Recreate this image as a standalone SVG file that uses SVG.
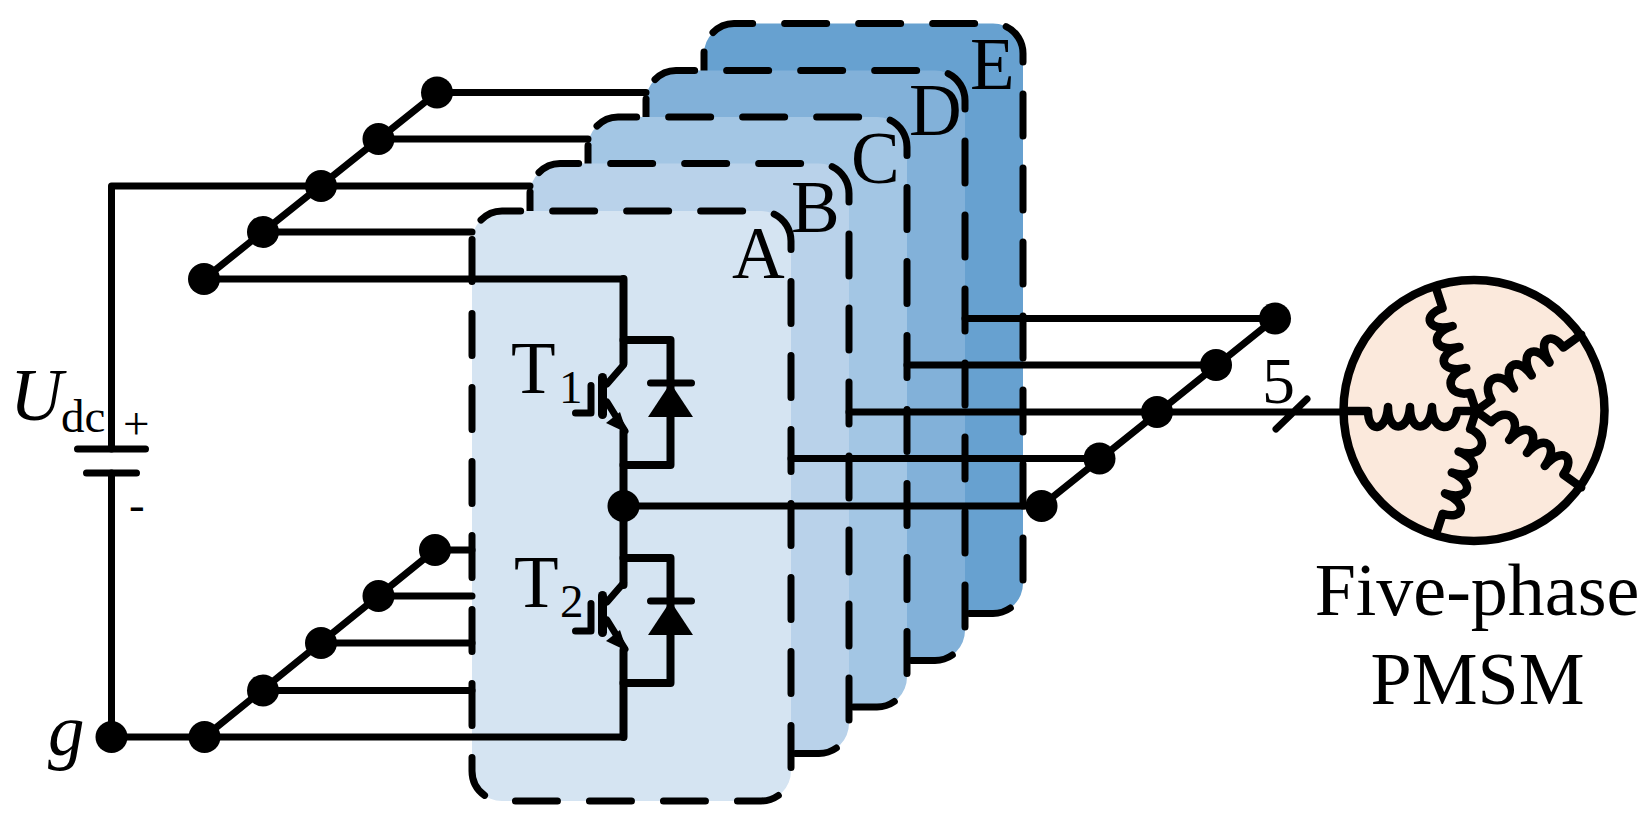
<svg xmlns="http://www.w3.org/2000/svg" width="1648" height="827" viewBox="0 0 1648 827">
<style>
.w{fill:none;stroke:#000;stroke-width:7;stroke-linecap:round;stroke-linejoin:round}
.h{stroke-width:8}
.c{stroke-width:8.500}
.p{stroke:#000;stroke-width:7;stroke-linecap:round;stroke-dasharray:42 32}
.d{fill:#000}
text{font-family:"Liberation Serif","Times New Roman",serif;fill:#000}
.l{font-size:73px}
.m{font-size:74px}
.s{font-size:47px}
.i{font-style:italic}
</style>
<defs>
<path id="pn" d="M481,220A30,30 0 0 1 502,211H761A30,30 0 0 1 791,241V771A30,30 0 0 1 761,801H502A30,30 0 0 1 472,771V241A30,30 0 0 1 481,220Z"/>
<g id="igbt">
<path class="w h" d="M623.500,340H670.500V465H623.500"/>
<path class="w" d="M650.500,383H691.500"/>
<path class="d" d="M670.500,383L693,417H648Z"/>
<path class="w" style="stroke-width:9" d="M602.500,377.500V414.500"/>
<path class="w" d="M591,385.500V413H575.500"/>
<path class="w" d="M623.500,365L607,384M607,402L625,431"/>
<path class="d" d="M627,433L620,412L606,423Z"/>
</g>
<path id="coil" class="w c" d="M-130,0H-108C-108,22 -90,22 -88,-4C-88,22 -68,22 -66,-4C-66,22 -46,22 -44,-4C-44,22 -21,22 -19,0H0"/>
</defs>
<rect width="1648" height="827" fill="#fff"/>
<g id="panel-E"><use href="#pn" x="232" y="-187.500" class="p" fill="#67a1d0"/></g>
<g id="panel-D"><use href="#pn" x="174" y="-140.500" class="p" fill="#82b1d9"/></g>
<g id="panel-C"><use href="#pn" x="116" y="-94" class="p" fill="#a3c6e4"/></g>
<g id="panel-B"><use href="#pn" x="58" y="-47.500" class="p" fill="#b9d2ea"/></g>
<g id="panel-A"><use href="#pn" class="p" fill="#d5e4f2"/></g>
<g id="connectors">
<path class="w" d="M204,279H623.500M204,279L437,92.500H646M378.500,139H588M321,186H530M263,232H472"/>
<path class="w" d="M111.500,449V186H321M111.500,473V737H623.500"/>
<path class="w" d="M204.500,737L435,550H472M378.500,596H472M321,643H472M263,690.500H472"/>
<path class="w h" d="M623.500,279V363M623.500,431V585M623.500,650V737"/>
<path class="w" d="M623.500,506H1041.500L1275,318.500H965M1216,365H907M1157,412H849M1099.500,458.500H791"/>
<path class="w" d="M1157,412H1345M1276,429L1307,399"/>
</g>
<g id="battery">
<path class="w" d="M77.500,449H145.500M86.500,473H136.500"/>
<text class="l i" x="10" y="420">U</text><text class="s" x="61" y="432">dc</text>
<text class="s" x="123" y="439">+</text><text class="s" x="129" y="520">-</text>
</g>
<g id="rail-dots">
<circle class="d" cx="204" cy="279" r="16"/><circle class="d" cx="263" cy="232" r="16"/><circle class="d" cx="321" cy="186" r="16"/><circle class="d" cx="378.500" cy="139" r="16"/><circle class="d" cx="437" cy="92.500" r="16"/>
<circle class="d" cx="204.500" cy="737" r="16"/><circle class="d" cx="263" cy="690.500" r="16"/><circle class="d" cx="321" cy="643" r="16"/><circle class="d" cx="378.500" cy="596" r="16"/><circle class="d" cx="435" cy="550" r="16"/>
<circle class="d" cx="111.500" cy="737" r="16"/><circle class="d" cx="623.500" cy="506" r="16"/>
<circle class="d" cx="1041.500" cy="506" r="16"/><circle class="d" cx="1099.500" cy="458.500" r="16"/><circle class="d" cx="1157" cy="412" r="16"/><circle class="d" cx="1216" cy="365" r="16"/><circle class="d" cx="1275" cy="318.500" r="16"/>
</g>
<g id="T1"><use href="#igbt"/><text class="l" x="511" y="393">T</text><text class="s" x="559" y="403">1</text></g>
<g id="T2"><use href="#igbt" y="218"/><text class="l" x="514" y="607">T</text><text class="s" x="560" y="617">2</text></g>
<g id="motor">
<circle cx="1474" cy="410.500" r="130.500" fill="#fbe9dc" stroke="#000" stroke-width="8.500"/>
<g transform="translate(1476,411)">
<use href="#coil"/><use href="#coil" transform="rotate(72)"/><use href="#coil" transform="rotate(144)"/><use href="#coil" transform="rotate(216)"/><use href="#coil" transform="rotate(288)"/>
</g>
<text class="m" x="1477" y="615" text-anchor="middle">Five-phase</text>
<text class="m" x="1477.500" y="704" text-anchor="middle">PMSM</text>
</g>
<g id="labels">
<text class="l" x="732" y="278">A</text><text class="l" x="791" y="232">B</text><text class="l" x="851" y="183">C</text><text class="l" x="909" y="135">D</text><text class="l" x="970" y="89">E</text>
<text class="l" x="1262" y="403" style="font-size:66px">5</text>
<text class="l i" x="48" y="755">g</text>
</g>
</svg>
